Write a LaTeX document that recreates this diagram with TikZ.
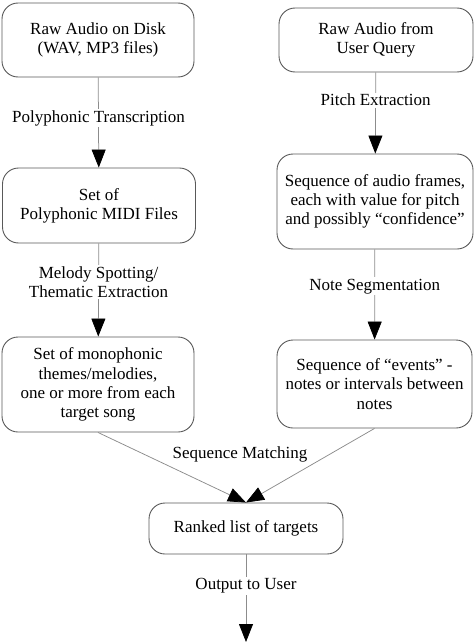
\documentclass[tikz,border=0pt]{standalone}
\usepackage{fontspec}
\setmainfont{Liberation Serif}
\usetikzlibrary{arrows.meta}
\begin{document}
\begin{tikzpicture}[x=1pt,y=-1pt,
  box/.style={draw=black!65, line width=0.9pt, rounded corners=16pt, align=center, inner sep=0pt, font=\fontsize{17}{19.3}\selectfont},
  lbl/.style={fill=white, inner sep=1.5pt, align=center, font=\fontsize{17}{18.5}\selectfont},
  flow/.style={draw=black!45, line width=0.75pt, -{Triangle[length=18pt,width=14pt,color=black]}}]
\useasboundingbox (0,0) rectangle (474,642);
% left column
\node[box, minimum width=192pt, minimum height=74pt] (a) at (98,40) {Raw Audio on Disk\\(WAV, MP3 files)};
\node[box, minimum width=193pt, minimum height=75pt] (b) at (99,205.5) {Set of\\Polyphonic MIDI Files};
\node[box, minimum width=192pt, minimum height=95pt] (c) at (98,384.5) {Set of monophonic\\themes/melodies,\\one or more from each\\target song};
% right column
\node[box, minimum width=194pt, minimum height=64pt] (r1) at (376,40) {Raw Audio from\\User Query};
\node[box, minimum width=196pt, minimum height=95pt] (r2) at (375,201.5) {Sequence of audio frames,\\each with value for pitch\\and possibly “confidence”};
\node[box, minimum width=195pt, minimum height=88pt] (r3) at (374.5,384) {Sequence of “events” -\\notes or intervals between\\notes};
% bottom
\node[box, minimum width=194pt, minimum height=51pt] (d) at (246,528.5) {Ranked list of targets};
\coordinate (out) at (246,642);
% connectors
\draw[flow] (a) -- node[lbl, pos=0.45] (l1) {Polyphonic Transcription} (b);
\draw[flow] (b) -- node[lbl, pos=0.415] (l2) {Melody Spotting/\\Thematic Extraction} (c);
\draw[flow] (r1) -- node[lbl, pos=0.34] (l3) {Pitch Extraction} (r2);
\draw[flow] (r2) -- node[lbl, pos=0.41] (l4) {Note Segmentation} (r3);
\draw[flow] (c.south) -- (d.north);
\draw[flow] (r3.south) -- (d.north);
\node[lbl, fill=none] (l5) at (240,454) {Sequence Matching};
\draw[flow] (d) -- node[lbl, pos=0.36] (l6) {Output to User} (out);
\end{tikzpicture}
\end{document}
